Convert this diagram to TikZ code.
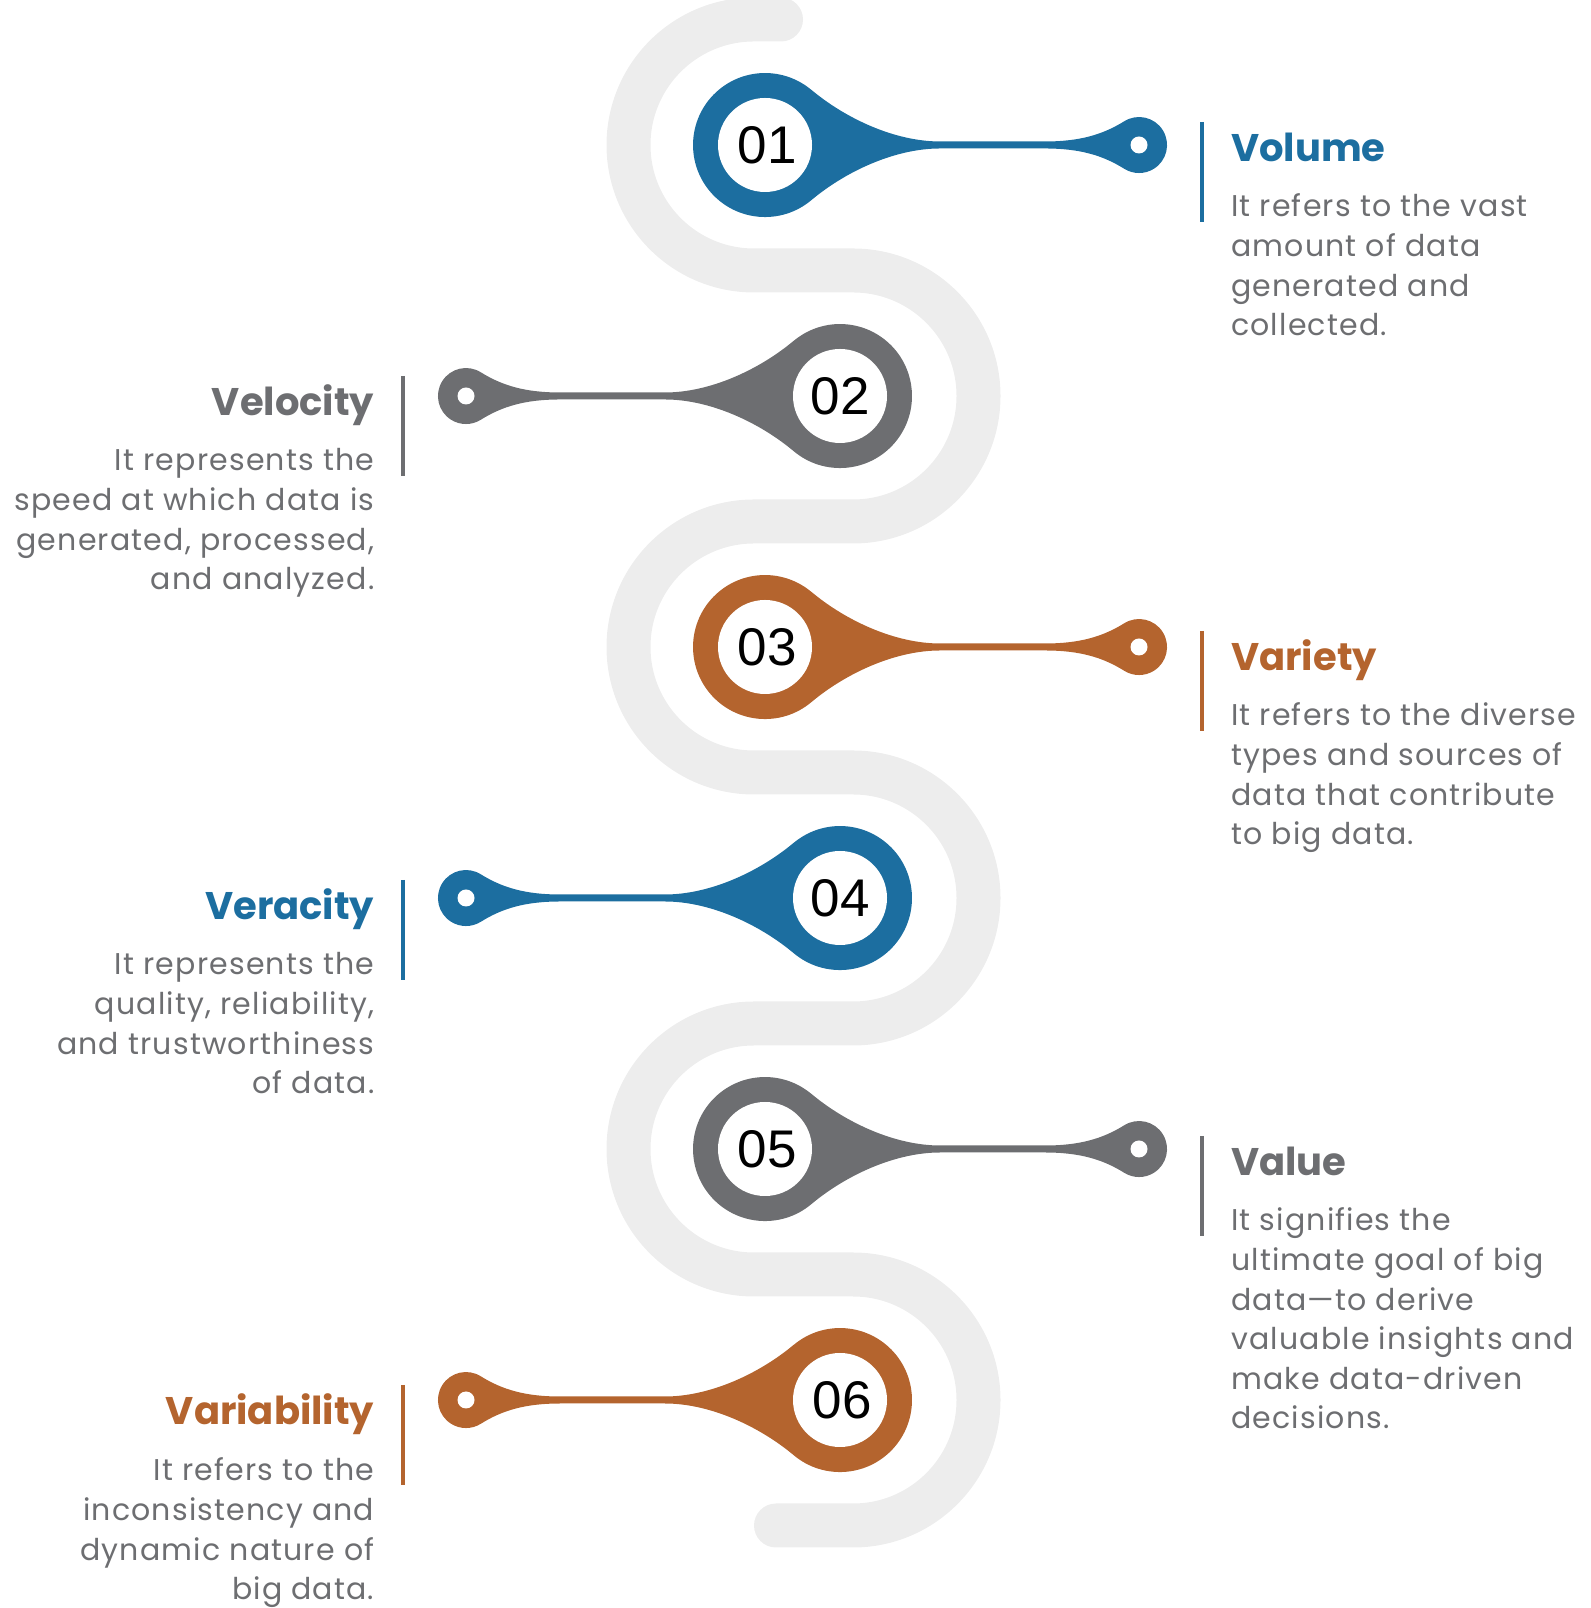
\documentclass[tikz,border=0pt]{standalone}
\usepackage{fontspec}
\setmainfont{Poppins}
\newfontfamily\bodyfont[LetterSpace=3.9]{Poppins}
\newfontfamily\numfont{Liberation Sans}
\definecolor{cblue}{HTML}{1C6EA0}
\definecolor{cgray}{HTML}{6D6E71}
\definecolor{corange}{HTML}{B4642E}
\definecolor{csnake}{HTML}{EDEDED}
\definecolor{ctext}{HTML}{6D6E71}
\newcommand\tdrop[4]{%
\begin{scope}[shift={(#1,#2)}, xscale=#3]
\fill[#4] (46.3,55.2) .. controls (80.8,26.3) and (130,3.5) .. (175,3.5) -- (280,3.5)
  .. controls (315,3.5) and (338,10.5) .. (359.2,23.7)
  arc[start angle=122,end angle=-122,radius=28]
  .. controls (338,-10.5) and (315,-3.5) .. (280,-3.5) -- (175,-3.5)
  .. controls (130,-3.5) and (80.8,-26.3) .. (46.3,-55.2)
  arc[start angle=-50,end angle=-310,radius=72] -- cycle;
\fill[white] (0,0) circle[radius=47];
\fill[white] (374,0) circle[radius=8.5];
\end{scope}}
\tikzset{
  numlabel/.style={inner sep=0pt, font=\numfont\fontsize{53}{53}\selectfont, text=black},
  titleR/.style={inner sep=0pt, anchor=base west, font=\bfseries\fontsize{38.5}{38.5}\selectfont},
  titleL/.style={inner sep=0pt, anchor=base east, font=\bfseries\fontsize{38.5}{38.5}\selectfont},
  bodyR/.style={inner sep=0pt, anchor=base west, align=left, text=ctext, font=\bodyfont\fontsize{30}{39.6}\selectfont},
  bodyL/.style={inner sep=0pt, anchor=base east, align=right, text=ctext, font=\bodyfont\fontsize{30}{39.6}\selectfont},
  bar/.style={line width=4pt}
}
\begin{document}
\begin{tikzpicture}[x=1pt,y=1pt]
\useasboundingbox (0,0) rectangle (1590,1608);
% snake
\draw[csnake, line width=44pt, line cap=round]
 (781,1588.5) -- (754,1588.5) arc[start angle=90,end angle=270,radius=125.5]
 -- (853,1337.5) arc[start angle=90,end angle=-90,radius=125.5]
 -- (754,1086.5) arc[start angle=90,end angle=270,radius=125.5]
 -- (853,835.5) arc[start angle=90,end angle=-90,radius=125.5]
 -- (754,584.5) arc[start angle=90,end angle=270,radius=125.5]
 -- (853,333.5) arc[start angle=90,end angle=-90,radius=125.5]
 -- (776,82.5);
% drops
\tdrop{765}{1463}{1}{cblue}
\tdrop{840}{1212}{-1}{cgray}
\tdrop{765}{961}{1}{corange}
\tdrop{840}{710}{-1}{cblue}
\tdrop{765}{459}{1}{cgray}
\tdrop{840}{208}{-1}{corange}
% numbers
\node[numlabel] (n1) at (767,1463) {01};
\node[numlabel] (n2) at (840,1212) {02};
\node[numlabel] (n3) at (767,961) {03};
\node[numlabel] (n4) at (840,710) {04};
\node[numlabel] (n5) at (767,459) {05};
\node[numlabel] (n6) at (842,208) {06};
% bars
\draw[bar, cblue] (1202,1486) -- (1202,1386);
\draw[bar, cgray] (403,1232) -- (403,1132);
\draw[bar, corange] (1202,977) -- (1202,877);
\draw[bar, cblue] (403,728) -- (403,628);
\draw[bar, cgray] (1202,472) -- (1202,372);
\draw[bar, corange] (403,223) -- (403,123);
% texts (body anchored at last baseline)
\node[titleR, text=cblue] (h1) at (1231,1446) {Volume};
\node[bodyR] (b1) at (1231,1272.2) {It refers to the vast\\amount of data\\generated and\\collected.};
\node[titleL, text=cgray] (h2) at (374.5,1192) {Velocity};
\node[bodyL] (b2) at (374.5,1018.2) {It represents the\\speed at which data is\\generated, processed,\\and analyzed.};
\node[titleR, text=corange] (h3) at (1231,937) {Variety};
\node[bodyR] (b3) at (1231,763.2) {It refers to the diverse\\types and sources of\\data that contribute\\to big data.};
\node[titleL, text=cblue] (h4) at (374.5,688) {Veracity};
\node[bodyL] (b4) at (374.5,514.2) {It represents the\\quality, reliability,\\and trustworthiness\\of data.};
\node[titleR, text=cgray] (h5) at (1231,432) {Value};
\node[bodyR] (b5) at (1231,179) {It signifies the\\ultimate goal of big\\data—to derive\\valuable insights and\\make data-driven\\decisions.};
\node[titleL, text=corange] (h6) at (374.5,183) {Variability};
\node[bodyL] (b6) at (374.5,8.2) {It refers to the\\inconsistency and\\dynamic nature of\\big data.};
\end{tikzpicture}
\end{document}
